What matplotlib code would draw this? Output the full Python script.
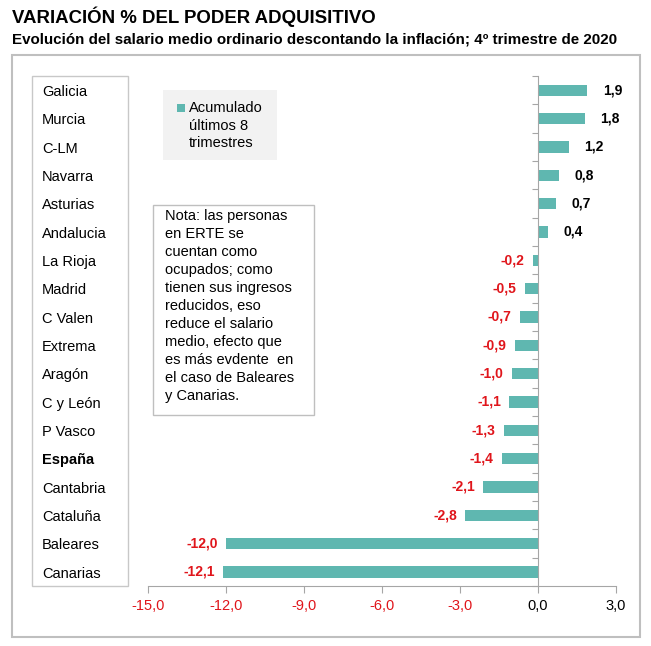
import matplotlib
matplotlib.use("Agg")
import matplotlib.pyplot as plt
from matplotlib.patches import Rectangle
import matplotlib.transforms as mtrans

plt.rcParams['font.family'] = ['Liberation Sans', 'DejaVu Sans']

regions = ["Galicia", "Murcia", "C-LM", "Navarra", "Asturias", "Andalucia", "La Rioja",
           "Madrid", "C Valen", "Extrema", "Aragón", "C y León", "P Vasco", "España",
           "Cantabria", "Cataluña", "Baleares", "Canarias"]
values = [1.9, 1.8, 1.2, 0.8, 0.7, 0.4, -0.2, -0.5, -0.7, -0.9, -1.0, -1.1, -1.3, -1.4,
          -2.1, -2.8, -12.0, -12.1]
xticks = [-15, -12, -9, -6, -3, 0, 3]
legend_label = "Acumulado\núltimos 8\ntrimestres"
note = ("Nota: las personas\nen ERTE se\ncuentan como\nocupados; como\n"
        "tienen sus ingresos\nreducidos, eso\nreduce el salario\nmedio, efecto que\n"
        "es más evdente  en\nel caso de Baleares\ny Canarias.")

W, H = 651, 646
fig = plt.figure(figsize=(W / 100, H / 100), dpi=100)
bar_color = "#5FB7B0"
red = "#E0151B"
gray = "#A6A6A6"

def fx(px):
    return px / W

def fy(py):
    return 1 - py / H

# outer frame
fig.patches.append(Rectangle((fx(12), fy(637)), fx(640) - fx(12), fy(55) - fy(637),
                             transform=fig.transFigure, fill=False, edgecolor="#BFBFBF", lw=1.5))

fig.text(fx(12), fy(17), "VARIACIÓN % DEL PODER ADQUISITIVO", fontsize=13.4, fontweight="bold",
         va="center", ha="left")
fig.text(fx(12), fy(40), "Evolución del salario medio ordinario descontando la inflación; 4º trimestre de 2020",
         fontsize=10.9, fontweight="bold", va="center", ha="left")

ax = fig.add_axes([fx(148), fy(586), fx(616) - fx(148), fy(76) - fy(586)])
n = len(regions)
ypos = list(range(n))
ax.barh(ypos, values, height=0.4, color=bar_color)
ax.set_ylim(n - 0.5, -0.5)
ax.set_xlim(-15, 3)

for s in ["top", "right"]:
    ax.spines[s].set_visible(False)
ax.spines["left"].set_position(("data", 0))
ax.spines["left"].set_color(gray)
ax.spines["bottom"].set_color(gray)
ax.set_yticks([i + 0.5 for i in range(-1, n)])
ax.set_yticklabels([])
ax.tick_params(axis="y", direction="out", length=4, color=gray)
ax.set_xticks(xticks)
ax.set_xticklabels([f"{t:.1f}".replace(".", ",") for t in xticks], fontsize=10.5)
ax.tick_params(axis="x", direction="out", length=5, color=gray, pad=4.5)
for lbl, t in zip(ax.get_xticklabels(), xticks):
    lbl.set_color(red if t < 0 else "black")

for y, v in zip(ypos, values):
    txt = f"{v:.1f}".replace(".", ",")
    if v >= 0:
        ax.annotate(txt, (v, y), xytext=(11, 0), textcoords="offset points", ha="left",
                    va="center", fontsize=10, fontweight="bold", color="black")
    else:
        ax.annotate(txt, (v, y), xytext=(-6, 0), textcoords="offset points", ha="right",
                    va="center", fontsize=10, fontweight="bold", color=red)

# category box
fig.patches.append(Rectangle((fx(32), fy(586)), fx(128) - fx(32), fy(76) - fy(586),
                             transform=fig.transFigure, fill=False, edgecolor="#C8C8C8", lw=1))
trans = mtrans.blended_transform_factory(fig.transFigure, ax.transData)
for y, r in zip(ypos, regions):
    fig.text(fx(42), y + 0.07, r, transform=trans, va="center", ha="left", fontsize=10.5,
             fontweight="bold" if r == "España" else "normal")

# legend box
fig.patches.append(Rectangle((fx(163), fy(160)), fx(277) - fx(163), fy(90) - fy(160),
                             transform=fig.transFigure, facecolor="#F2F2F2", edgecolor="none"))
fig.patches.append(Rectangle((fx(177), fy(112)), fx(185) - fx(177), fy(104) - fy(112),
                             transform=fig.transFigure, facecolor=bar_color, edgecolor="none"))
fig.text(fx(189), fy(101), legend_label, va="top", ha="left", fontsize=10.5, linespacing=1.32)

# note box
fig.patches.append(Rectangle((fx(153), fy(415)), fx(314) - fx(153), fy(205) - fy(415),
                             transform=fig.transFigure, facecolor="white", edgecolor="#BFBFBF", lw=1))
fig.text(fx(165), fy(209), note, va="top", ha="left", fontsize=10.5, linespacing=1.36)

fig.savefig("out.png", dpi=100)
